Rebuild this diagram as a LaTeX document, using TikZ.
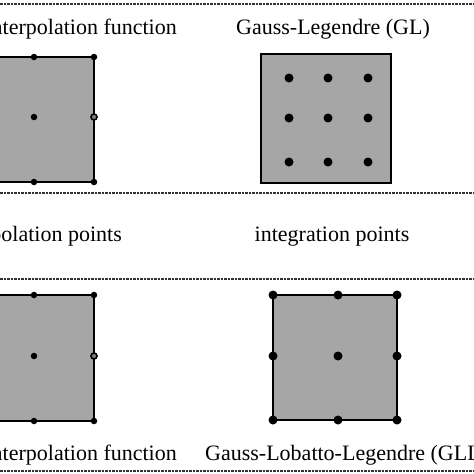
\documentclass[tikz,border=0pt]{standalone}
\usepackage{fontspec}
\setmainfont{Liberation Serif}
\begin{document}
\begin{tikzpicture}[x=1pt,y=-1pt,
  sep/.style={line width=1.2pt,draw=black!80,dash pattern=on 2.5pt off 1pt},
  lbl/.style={font=\fontsize{22}{24}\selectfont,inner sep=0pt},
  elem/.style={fill=black!35,draw=black,line width=2pt},
  elemthick/.style={fill=black!35,draw=black,line width=2.6pt},
  sdot/.style={circle,fill=black,inner sep=0pt,minimum size=6.5pt},
  ring/.style={circle,fill=black!50,draw=black,line width=1.6pt,inner sep=0pt,minimum size=6pt},
  bdot/.style={circle,fill=black,inner sep=0pt,minimum size=9pt}]
\useasboundingbox (0,0) rectangle (474,474);
\fill[white] (0,0) rectangle (474,474);
% separators
\coordinate (l1a) at (0,4);   \coordinate (l1b) at (474,4);
\coordinate (l2a) at (0,193); \coordinate (l2b) at (474,193);
\coordinate (l3a) at (0,279); \coordinate (l3b) at (474,279);
\coordinate (l4a) at (0,471); \coordinate (l4b) at (474,471);
\draw[sep] (l1a) -- (l1b);
\draw[sep] (l2a) -- (l2b);
\draw[sep] (l3a) -- (l3b);
\draw[sep] (l4a) -- (l4b);
% labels
\node[lbl,anchor=base east] (t1) at (177,34) {Interpolation function};
\node[lbl,anchor=base] (t2) at (333,34) {Gauss-Legendre (GL)};
\node[lbl,anchor=base east] (t3) at (122,241) {Interpolation points};
\node[lbl,anchor=base] (t4) at (332,241) {integration points};
\node[lbl,anchor=base east] (t5) at (177,460) {Interpolation function};
\node[lbl,anchor=base west] (t6) at (205,460) {Gauss-Lobatto-Legendre (GLL)};
% top-left element
\draw[elem] (-26,57) rectangle (94,182);
\foreach \i/\x in {a/-26,b/34,c/94}{
  \foreach \j/\y in {a/57,b/117,c/182}{
    \node[sdot] (tl\i\j) at (\x,\y) {};
  }
}
\node[ring] (tlring) at (94,117) {};
% top-right element
\draw[elemthick] (261,54) rectangle (391,183);
\foreach \i/\x in {a/289,b/328,c/368}{
  \foreach \j/\y in {a/78,b/118,c/162}{
    \node[bdot] (tr\i\j) at (\x,\y) {};
  }
}
% bottom-left element
\draw[elem] (-26,295) rectangle (94,421);
\foreach \i/\x in {a/-26,b/34,c/94}{
  \foreach \j/\y in {a/295,b/356,c/421}{
    \node[sdot] (bl\i\j) at (\x,\y) {};
  }
}
\node[ring] (blring) at (94,356) {};
% bottom-right element
\draw[elemthick] (273,295) rectangle (397,420);
\foreach \i/\x in {a/273,b/338,c/397}{
  \foreach \j/\y in {a/295,b/356,c/420}{
    \node[bdot] (br\i\j) at (\x,\y) {};
  }
}
\end{tikzpicture}
\end{document}
